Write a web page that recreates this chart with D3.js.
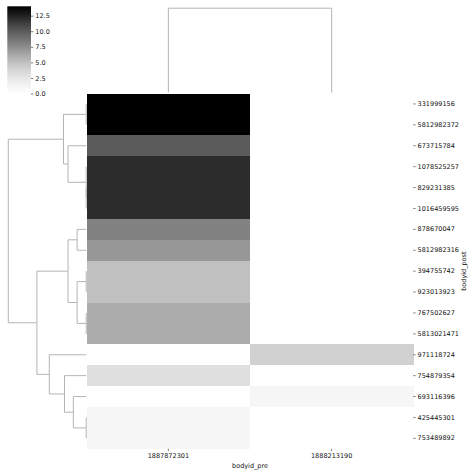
<!DOCTYPE html>
<html><head><meta charset="utf-8">
<script src="https://cdn.jsdelivr.net/npm/d3@7"></script>
<style>html,body{margin:0;padding:0;background:#fff}svg{display:block}text{font-family:"DejaVu Sans",sans-serif;fill:#111}</style>
</head><body>
<svg id="c" width="474" height="474"></svg>
<script>
// ---- data ----
const rowLabels = ["331999156","5812982372","673715784","1078525257","829231385","1016459595","878670047","5812982316","394755742","923013923","767502627","5813021471","971118724","754879354","693116396","425445301","753489892"];
const colLabels = ["1887872301","1888213190"];
const col1Values = [14,14,10,12,12,12,8,7,5,5,6,6,0,3,0,1,1];
const col2Values = [0,0,0,0,0,0,0,0,0,0,0,0,4,0,1,0,0];
const cbarTicks = [0,2.5,5,7.5,10,12.5];
// cluster trees in display order (leaf indices)
const rowTree = [[[0,1],[2,[3,[4,5]]]],[[[6,7],[[8,9],[10,11]]],[12,[13,[14,[15,16]]]]]];
const colTree = [0,1];

const vmin = 0, vmax = 14;
const svg = d3.select("#c");
const FS = 6.5;

const values = rowLabels.map((r,i)=>[col1Values[i], col2Values[i]]);
const colVectors = [col1Values, col2Values];

// layout
const hm = {x0:86.7, x1:413.3, y0:93.5, y1:448.8};
const x = d3.scaleBand().domain(colLabels).range([hm.x0, hm.x1]);
const y = d3.scaleBand().domain(rowLabels).range([hm.y0, hm.y1]);
const color = v => d3.interpolateGreys((v - vmin)/(vmax - vmin));

// heatmap cells
const cells = [];
rowLabels.forEach((r,i)=>colLabels.forEach((c,j)=>cells.push({r,c,v:values[i][j]})));
svg.append("g").attr("shape-rendering","crispEdges").selectAll("rect").data(cells).join("rect")
  .attr("x", d=>x(d.c)).attr("y", d=>y(d.r))
  .attr("width", x.bandwidth()+0.5).attr("height", y.bandwidth()+0.5)
  .attr("fill", d=>color(d.v));

// axes
const yAxis = d3.axisRight(y).tickSize(2.3).tickPadding(2);
const gy = svg.append("g").attr("transform",`translate(${hm.x1},0)`).call(yAxis);
const xAxis = d3.axisBottom(x).tickSize(2.3).tickPadding(2.5);
const gx = svg.append("g").attr("transform",`translate(0,${hm.y1})`).call(xAxis);
[gx,gy].forEach(g=>{
  g.select(".domain").remove();
  g.selectAll(".tick line").attr("stroke","#222").attr("stroke-width",0.6);
  g.selectAll(".tick text").attr("font-size",FS).attr("font-family","DejaVu Sans").attr("fill","#111");
});
svg.append("text").attr("x",(hm.x0+hm.x1)/2).attr("y",468).attr("text-anchor","middle")
  .attr("font-size",FS).text("bodyid_pre");
svg.append("text").attr("transform",`translate(466,${(hm.y0+hm.y1)/2}) rotate(-90)`)
  .attr("text-anchor","middle").attr("font-size",FS).text("bodyid_post");

// ---- clustering heights (average linkage, euclidean) ----
function leaves(t){ return Array.isArray(t) ? leaves(t[0]).concat(leaves(t[1])) : [t]; }
function dist(a,b){ return Math.sqrt(d3.sum(a.map((v,k)=>(v-b[k])**2))); }
function buildLinks(tree, vecs){
  const links = [];
  function rec(t){
    if(!Array.isArray(t)){ return {pos:5+10*t, h:0}; }
    const L = rec(t[0]), R = rec(t[1]);
    const la = leaves(t[0]), lb = leaves(t[1]);
    let s = 0; la.forEach(a=>lb.forEach(b=>{ s += dist(vecs[a],vecs[b]); }));
    const h = s/(la.length*lb.length);
    links.push({p1:L.pos, h1:L.h, p2:R.pos, h2:R.h, h});
    return {pos:(L.pos+R.pos)/2, h};
  }
  rec(tree);
  return links;
}
const treeStroke = "#b4b4b4";
// row dendrogram
const rowLinks = buildLinks(rowTree, values);
const rowMax = d3.max(rowLinks, d=>d.h);
const rdX = d3.scaleLinear().domain([0, rowMax*1.05]).range([86.2, 4.4]);
const rdY = d3.scaleLinear().domain([0, 10*rowLabels.length]).range([hm.y0, hm.y1]);
svg.append("g").selectAll("path").data(rowLinks).join("path")
  .attr("fill","none").attr("stroke",treeStroke).attr("stroke-width",1)
  .attr("d", d=>`M${rdX(d.h1)},${rdY(d.p1)}H${rdX(d.h)}V${rdY(d.p2)}H${rdX(d.h2)}`);
// column dendrogram
const colLinks = buildLinks(colTree, colVectors);
const colMax = d3.max(colLinks, d=>d.h);
const cdY = d3.scaleLinear().domain([0, colMax*1.05]).range([92.5, 4]);
const cdX = d3.scaleLinear().domain([0, 10*colLabels.length]).range([hm.x0, hm.x1]);
svg.append("g").selectAll("path").data(colLinks).join("path")
  .attr("fill","none").attr("stroke",treeStroke).attr("stroke-width",1)
  .attr("d", d=>`M${cdX(d.p1)},${cdY(d.h1)}V${cdY(d.h)}H${cdX(d.p2)}V${cdY(d.h2)}`);

// ---- colorbar ----
const cb = {x:7.3, w:23.7, y0:6.3, y1:93.5};
const defs = svg.append("defs");
const grad = defs.append("linearGradient").attr("id","cbg").attr("x1",0).attr("y1",1).attr("x2",0).attr("y2",0);
d3.range(0,1.0001,0.05).forEach(t=>grad.append("stop").attr("offset",t).attr("stop-color",color(vmin+t*(vmax-vmin))));
svg.append("rect").attr("x",cb.x).attr("y",cb.y0).attr("width",cb.w).attr("height",cb.y1-cb.y0).attr("fill","url(#cbg)");
const cbScale = d3.scaleLinear().domain([vmin,vmax]).range([cb.y1, cb.y0]);
const gcb = svg.append("g").attr("transform",`translate(${cb.x+cb.w},0)`)
  .call(d3.axisRight(cbScale).tickValues(cbarTicks).tickFormat(d3.format(".1f")).tickSize(2.3).tickPadding(2));
gcb.select(".domain").remove();
gcb.selectAll(".tick line").attr("stroke","#222").attr("stroke-width",0.6);
gcb.selectAll(".tick text").attr("font-size",FS).attr("font-family","DejaVu Sans").attr("fill","#111");
</script>
</body></html>
